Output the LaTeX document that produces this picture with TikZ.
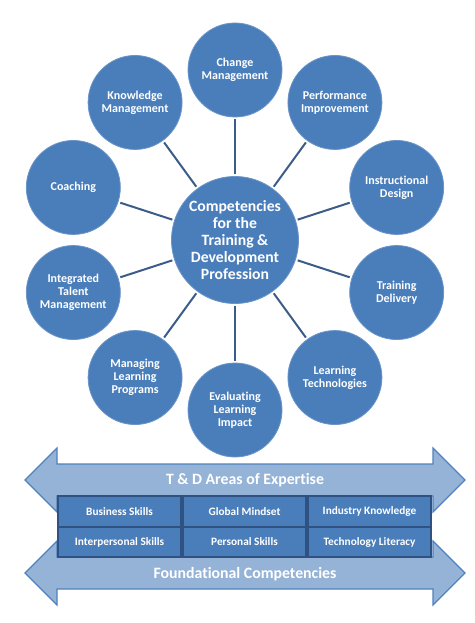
\documentclass[tikz,border=0pt]{standalone}
\usepackage{fontspec}
\setmainfont[Ligatures=NoCommon]{Carlito}
\definecolor{discblue}{HTML}{4A7EBB}
\definecolor{discedge}{HTML}{6B95C8}
\definecolor{spoke}{HTML}{3B5C88}
\definecolor{bandfill}{HTML}{95B3D7}
\definecolor{bandedge}{HTML}{4F81BD}
\definecolor{cellfill}{HTML}{4A7EBB}
\definecolor{celledge}{HTML}{2F5283}

\begin{document}
\begin{tikzpicture}[
  x=1pt,y=-1pt,
  every node/.style={font=\bfseries,text=white,align=center},
  disc/.style={circle,fill=discblue,draw=discedge,line width=0.8pt,inner sep=0pt,
    minimum size=94pt,font=\fontsize{12}{12.8}\selectfont\bfseries},
  core/.style={disc,minimum size=127pt,font=\fontsize{15.7}{16.8}\selectfont\bfseries},
  spokeline/.style={spoke,line width=2pt,shorten <=2pt,shorten >=2pt},
  band/.style={fill=bandfill,draw=bandedge,line width=1.2pt,line join=miter},
  cell/.style={rectangle,fill=cellfill,draw=celledge,line width=1.6pt,
    minimum width=123pt,minimum height=30.5pt,inner sep=0pt,
    font=\fontsize{11.3}{13}\selectfont\bfseries}
]
  \useasboundingbox (0,0) rectangle (474,623);

  % two double arrows
  \draw[band] (25,480) -- (57,448) -- (57,464) -- (433,464) -- (433,448) -- (465,480)
    -- (433,512) -- (433,496) -- (57,496) -- (57,512) -- cycle;
  \draw[band] (25,573) -- (57,541) -- (57,557) -- (433,557) -- (433,541) -- (465,573)
    -- (433,605) -- (433,589) -- (57,589) -- (57,605) -- cycle;
  \node[font=\fontsize{15.8}{17}\selectfont\bfseries] (expertise) at (245,480) {T \& D Areas of Expertise};
  \node[font=\fontsize{15.8}{17}\selectfont\bfseries] (foundation) at (245,574) {Foundational Competencies};

  % table of skills
  \foreach \lab [count=\i] in {Business Skills,Global Mindset,Industry Knowledge,
      Interpersonal Skills,Personal Skills,Technology Literacy}{
    \pgfmathtruncatemacro\col{mod(\i-1,3)}
    \pgfmathtruncatemacro\row{(\i-1)/3}
    \node[cell] (skill\i) at ({119.5+125*\col},{511.5+30.5*\row}) {\lab};
  }

  % wheel of competencies
  \node[core] (hub) at (235,240) {Competencies\\for the\\Training \&\\Development\\Profession};
  \foreach \lab [count=\i] in {{Change\\Management},{Knowledge\\Management},{Coaching},
      {Integrated\\Talent\\Management},{Managing\\Learning\\Programs},
      {Evaluating\\Learning\\Impact},{Learning\\Technologies},{Training\\Delivery},
      {Instructional\\Design},{Performance\\Improvement}}{
    \pgfmathsetmacro\ang{90+36*(\i-1)}
    \node[disc] (area\i) at ({235+170*cos(\ang)},{240-170*sin(\ang)}) {\lab};
    \draw[spokeline] (hub) -- (area\i);
  }
\end{tikzpicture}
\end{document}
